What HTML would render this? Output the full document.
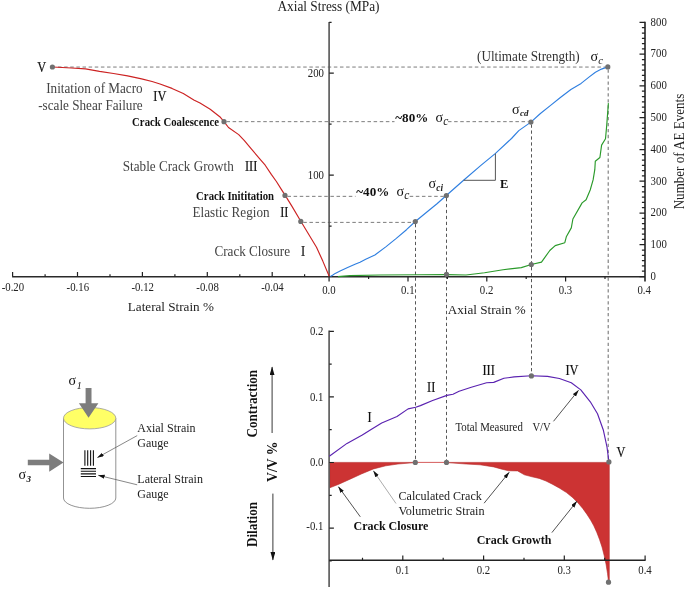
<!DOCTYPE html>
<html><head><meta charset="utf-8"><title>Stress-strain diagram</title>
<style>html,body{margin:0;padding:0;background:#fff}svg{display:block}text{font-family:"Liberation Serif","Times New Roman",serif;fill:#444}.b{font-weight:bold;fill:#111}.i{font-style:italic}.t{font-size:12.4px;fill:#222}.k{fill:#222}.m{font-size:15.6px}.r{fill:#222}.d{stroke:#6e6e6e;stroke-width:0.9;stroke-dasharray:3.5 2.63;fill:none}.dv{stroke:#444;stroke-width:0.9;stroke-dasharray:3.3 2.64;fill:none}.ax{stroke:#3a3a3a;stroke-width:1.2;fill:none}.tk{stroke:#222;stroke-width:1.2;fill:none}.ar{stroke:#333;stroke-width:0.85;fill:none}</style></head><body>
<svg width="685" height="589" viewBox="0 0 685 589">
<defs><marker id="ah" markerWidth="8" markerHeight="5" refX="6.3" refY="2" orient="auto" markerUnits="userSpaceOnUse"><path d="M0,0 L6.8,2 L0,4 Z" fill="#111"/></marker><marker id="ah2" markerWidth="9" markerHeight="6" refX="7.8" refY="2.4" orient="auto" markerUnits="userSpaceOnUse"><path d="M0,0 L8.3,2.4 L0,4.8 Z" fill="#111"/></marker></defs>
<rect width="685" height="589" fill="#fff"/>
<g class="d">
<path d="M58,67.05 H605.5"/>
<path d="M226.5,121.65 H394.5 M448,121.65 H528.5"/>
<path d="M287.5,196.35 H355.5 M409.7,196.35 H444"/>
<path d="M303.3,222.4 H413"/>
</g>
<g class="dv">
<path d="M415.5,224 V460"/>
<path d="M446.5,198 V460"/>
<path d="M531.5,124.5 V373.5"/>
</g>
<g class="dv" style="stroke:#777;stroke-width:1.1">
<path d="M608.2,69.5 V459.5"/>
</g>
<path d="M329.1,22 V281.5" stroke="#555" stroke-width="1.6" fill="none"/>
<path d="M12.1,276.75 H645" stroke="#2a2a2a" stroke-width="1.5" fill="none"/>
<path d="M645,21.7 V281.5" stroke="#222" stroke-width="1.6" fill="none"/>
<g class="tk">
<path d="M329.2,73.2 h4.6 M329.2,124.2 h2.4 M329.2,175.2 h4.6 M329.2,226.2 h2.4 M329.2,22.4 h2.4 M12.6,276.6 v-4.7 M45.1,276.6 v-2.3 M77.5,276.6 v-4.7 M110.0,276.6 v-2.3 M142.4,276.6 v-4.7 M174.9,276.6 v-2.3 M207.3,276.6 v-4.7 M239.8,276.6 v-2.3 M272.2,276.6 v-4.7 M304.6,276.6 v-2.3 M368.6,276.6 v2.4 M408.0,276.6 v4.9 M447.4,276.6 v2.4 M486.8,276.6 v4.9 M526.2,276.6 v2.4 M565.6,276.6 v4.9 M605.0,276.6 v2.4"/>
<path d="M645,276.5 h-5.5 M645,271.2 h-3.1 M645,265.9 h-3.1 M645,260.6 h-3.1 M645,255.3 h-3.1 M645,250.0 h-3.1 M645,244.7 h-5.5 M645,239.4 h-3.1 M645,234.2 h-3.1 M645,228.9 h-3.1 M645,223.6 h-3.1 M645,218.3 h-3.1 M645,213.0 h-5.5 M645,207.7 h-3.1 M645,202.4 h-3.1 M645,197.1 h-3.1 M645,191.8 h-3.1 M645,186.5 h-3.1 M645,181.2 h-5.5 M645,175.9 h-3.1 M645,170.6 h-3.1 M645,165.3 h-3.1 M645,160.0 h-3.1 M645,154.7 h-3.1 M645,149.5 h-5.5 M645,144.2 h-3.1 M645,138.9 h-3.1 M645,133.6 h-3.1 M645,128.3 h-3.1 M645,123.0 h-3.1 M645,117.7 h-5.5 M645,112.4 h-3.1 M645,107.1 h-3.1 M645,101.8 h-3.1 M645,96.5 h-3.1 M645,91.2 h-3.1 M645,85.9 h-5.5 M645,80.6 h-3.1 M645,75.3 h-3.1 M645,70.1 h-3.1 M645,64.8 h-3.1 M645,59.5 h-3.1 M645,54.2 h-5.5 M645,48.9 h-3.1 M645,43.6 h-3.1 M645,38.3 h-3.1 M645,33.0 h-3.1 M645,27.7 h-3.1 M645,22.4 h-5.5" style="stroke:#222;stroke-width:1.25"/>
</g>
<polyline points="338.0,276.6 350.0,275.6 380.0,275.0 420.0,274.8 446.5,274.6 466.0,275.0 484.5,272.8 503.0,269.7 521.3,267.6 531.3,264.5 541.5,262.1 549.8,250.5 555.2,245.6 564.8,242.7 566.3,236.8 571.3,227.9 572.9,219.0 582.1,202.9 586.1,199.7 590.2,190.0 593.1,179.9 594.8,169.7 595.3,161.2 599.9,157.5 601.6,145.1 605.5,138.8 606.7,125.6 608.4,103.1" fill="none" stroke="#2a9a2a" stroke-width="1.15" stroke-linejoin="round"/>
<polyline points="52.4,67.0 57.5,67.2 71.5,68.0 85.5,68.9 99.5,71.4 113.5,73.5 127.6,75.9 141.6,78.9 152.1,81.5 160.0,84.0 172.0,88.4 183.3,93.5 193.8,100.0 200.0,103.1 210.2,109.2 220.4,117.3 223.8,121.4 228.5,127.5 238.7,134.6 244.4,140.7 251.3,148.9 259.1,158.1 265.2,165.2 271.3,174.4 276.4,181.5 281.5,189.6 285.2,195.4 291.7,205.9 300.8,221.3 316.5,247.2 322.8,261.1 329.2,276.3" fill="none" stroke="#cc2222" stroke-width="1.15" stroke-linejoin="round"/>
<polyline points="330.4,276.5 332.9,275.0 335.2,273.4 340.6,270.8 348.2,267.3 355.6,264.0 360.0,262.2 365.7,259.3 374.9,255.0 386.1,246.6 396.3,238.4 406.5,229.7 415.3,221.5 426.9,212.0 437.0,203.8 446.3,195.5 463.6,180.3 480.9,165.4 495.2,153.6 511.5,138.5 518.8,130.6 530.9,122.1 540.4,113.5 550.6,105.4 560.7,97.2 570.9,89.5 581.1,83.4 589.3,76.9 595.4,72.2 601.5,69.1 607.8,66.9" fill="none" stroke="#2f7fe0" stroke-width="1.15" stroke-linejoin="round"/>
<path d="M463.6,180.3 H495.4 V153.6" fill="none" stroke="#555" stroke-width="1"/>
<polygon points="329.8,462.4 329.8,487.8 338.9,484.2 351.1,478.7 361.3,474.0 373.5,468.9 385.8,465.8 398.0,464.0 415.3,462.6 415.3,462.4" fill="#cc3333" stroke="#b52a2a" stroke-width="0.6"/>
<polygon points="446.5,462.4 446.5,462.6 466.1,464.0 480.0,464.8 493.7,466.9 502.0,469.2 508.5,470.8 517.6,470.9 524.4,474.8 532.0,476.8 539.2,478.4 546.0,481.0 552.8,484.4 559.6,488.2 566.5,492.6 572.5,497.4 577.9,502.8 582.7,508.4 587.0,514.4 590.6,520.0 593.8,525.8 596.8,532.4 599.5,539.4 602.0,547.0 604.1,555.2 606.0,564.0 607.5,573.4 608.5,582.0 609.3,582.0 609.3,462.4" fill="#cc3333" stroke="#b52a2a" stroke-width="0.6"/>
<path d="M415.3,462.4 H446.5" stroke="#cc3333" stroke-width="0.8"/>
<path d="M329.1,330.6 V587" stroke="#555" stroke-width="1.6" fill="none"/>
<path d="M329.3,560.2 H645.6" stroke="#222" stroke-width="1.4" fill="none"/>
<path class="tk" d="M329.3,331.3 h4.6 M329.3,364.1 h2.4 M329.3,396.9 h4.6 M329.3,429.7 h2.4 M329.3,462.5 h4.6 M329.3,495.3 h2.4 M329.3,528.1 h4.6 M329.3,560.9 h2.4 M362.5,560.2 v-2.4 M402.8,560.2 v-4.8 M443.2,560.2 v-2.4 M483.6,560.2 v-4.8 M524.0,560.2 v-2.4 M564.3,560.2 v-4.8 M604.7,560.2 v-2.4 M645.1,560.2 v-4.8"/>
<polyline points="329.3,456.3 347.0,443.4 362.3,435.0 371.5,429.2 381.7,423.0 397.0,416.5 408.1,408.9 415.7,407.2 420.4,405.6 432.6,400.5 446.9,395.4 453.0,394.2 459.1,391.3 471.3,387.3 486.6,382.8 493.7,382.4 503.9,378.3 514.1,376.9 531.4,375.8 547.5,376.4 559.4,378.5 571.3,382.8 580.8,389.9 590.3,401.8 597.5,413.7 603.4,430.3 607.0,447.0 608.9,461.7" fill="none" stroke="#5a22b0" stroke-width="1.15" stroke-linejoin="round"/>
<circle cx="52.4" cy="67" r="2.6" fill="#707070"/>
<circle cx="224" cy="121.7" r="2.6" fill="#707070"/>
<circle cx="285" cy="195.4" r="2.6" fill="#707070"/>
<circle cx="300.8" cy="221.4" r="2.6" fill="#707070"/>
<circle cx="415.3" cy="221.6" r="2.6" fill="#707070"/>
<circle cx="446.4" cy="195.6" r="2.6" fill="#707070"/>
<circle cx="530.9" cy="122.1" r="2.6" fill="#707070"/>
<circle cx="607.8" cy="66.9" r="2.6" fill="#707070"/>
<circle cx="446.5" cy="274.3" r="2.6" fill="#707070"/>
<circle cx="531.3" cy="264.5" r="2.6" fill="#707070"/>
<circle cx="415.3" cy="462.4" r="2.6" fill="#707070"/>
<circle cx="446.5" cy="462.4" r="2.6" fill="#707070"/>
<circle cx="531.4" cy="375.9" r="2.6" fill="#707070"/>
<circle cx="608.9" cy="461.9" r="2.6" fill="#707070"/>
<circle cx="608.5" cy="582.2" r="2.6" fill="#707070"/>
<path d="M63.5,418.2 V498 A26.15,10.3 0 0 0 115.8,498 V418.2" fill="#fff" stroke="#777" stroke-width="0.8"/>
<ellipse cx="89.65" cy="418.2" rx="26.15" ry="10.7" fill="#ffff66" stroke="#999" stroke-width="0.8"/>
<path d="M85.6,388 H91.5 V403.3 H98.4 L88.55,417.8 L78.9,403.3 H85.6 Z" fill="#7d7d7d"/>
<path d="M27.8,459.8 H49.2 V453.4 L63.5,462.5 L49.2,471.7 V465.3 H27.8 Z" fill="#7d7d7d"/>
<path d="M84.9,450.3 V465.8 M87.7,450.3 V465.8 M90.6,450.3 V465.8 M93.4,450.3 V465.8 M80.8,468.6 H96 M80.8,471.2 H96 M80.8,473.9 H96 M80.8,476.5 H96" stroke="#111" stroke-width="1.1" fill="none"/>
<line class="ar" x1="360.3" y1="516.8" x2="338.5" y2="486.8" marker-end="url(#ah)"/>
<line x1="396" y1="503.5" x2="373.5" y2="471" stroke="#888" stroke-width="0.7" marker-end="url(#ah)"/>
<line class="ar" x1="484.1" y1="503.2" x2="509.1" y2="472.4" marker-end="url(#ah)"/>
<line class="ar" x1="551.9" y1="532.6" x2="576.7" y2="501.5" marker-end="url(#ah)"/>
<line class="ar" x1="553.5" y1="421.3" x2="578.4" y2="390.4" marker-end="url(#ah)"/>
<line x1="137.2" y1="435.6" x2="97.5" y2="457.5" stroke="#555" stroke-width="0.7" marker-end="url(#ah)"/>
<line x1="137.2" y1="484.8" x2="98.4" y2="475.3" stroke="#555" stroke-width="0.7" marker-end="url(#ah)"/>
<line x1="272.1" y1="433" x2="272.1" y2="367.1" stroke="#222" stroke-width="0.9" marker-end="url(#ah2)"/>
<line x1="272.9" y1="493.6" x2="272.9" y2="559.9" stroke="#222" stroke-width="0.9" marker-end="url(#ah2)"/>
<text transform="translate(277.4,10.9) scale(0.953,1)" class="m" text-anchor="start" style="font-size:14.0px;fill:#222;">Axial Stress (MPa)</text>
<text transform="translate(37.2,71.5) scale(0.86,1)" class="m" text-anchor="start" style="font-size:14.4px;fill:#111;stroke:#111;stroke-width:0.2px;">V</text>
<text transform="translate(46.2,93.2) scale(0.9146,1)" class="m" text-anchor="start" style="font-size:14.4px;">Initation of Macro</text>
<text transform="translate(38.2,109.8) scale(0.9146,1)" class="m" text-anchor="start" style="font-size:14.4px;">-scale Shear Failure</text>
<text transform="translate(153.3,101) scale(0.86,1)" class="m" text-anchor="start" style="font-size:14.4px;fill:#111;stroke:#111;stroke-width:0.2px;">IV</text>
<text transform="translate(132.1,126) scale(0.935,1)" class="b" text-anchor="start" style="font-size:11.5px;">Crack Coalescence</text>
<text transform="translate(122.8,170.9) scale(0.9146,1)" class="m" text-anchor="start" style="font-size:14.4px;">Stable Crack Growth</text>
<text transform="translate(244.9,170.9) scale(0.86,1)" class="m" text-anchor="start" style="font-size:14.4px;fill:#111;stroke:#111;stroke-width:0.2px;">III</text>
<text transform="translate(196.1,199.8) scale(0.935,1)" class="b" text-anchor="start" style="font-size:11.5px;">Crack Inititation</text>
<text transform="translate(192.5,216.5) scale(0.9146,1)" class="m" text-anchor="start" style="font-size:14.4px;">Elastic Region</text>
<text transform="translate(280.2,216.5) scale(0.86,1)" class="m" text-anchor="start" style="font-size:14.4px;fill:#111;stroke:#111;stroke-width:0.2px;">II</text>
<text transform="translate(214.4,256) scale(0.9146,1)" class="m" text-anchor="start" style="font-size:14.4px;">Crack Closure</text>
<text transform="translate(301.1,256) scale(0.86,1)" class="m" text-anchor="start" style="font-size:14.4px;fill:#111;stroke:#111;stroke-width:0.2px;">I</text>
<text transform="translate(477,60.5) scale(0.9146,1)" class="m" text-anchor="start" style="font-size:14.4px;fill:#333;">(Ultimate Strength)</text>
<text x="590.4" y="60.6" style="font-size:14.2px;fill:#111">σ<tspan class="i " dy="3" dx="0.3" style="font-size:10.8px;fill:#222">c</tspan></text>
<text x="512" y="113.5" style="font-size:14.2px;fill:#111">σ<tspan class="i b" dy="2.4" dx="0.3" style="font-size:9px;fill:#222">cd</tspan></text>
<text x="428.4" y="187.9" style="font-size:14.2px;fill:#111">σ<tspan class="i b" dy="3.2" dx="0.3" style="font-size:9.3px;fill:#222">ci</tspan></text>
<text x="435.4" y="122" style="font-size:14.2px;fill:#111">σ<tspan class="i " dy="2.8" dx="0.3" style="font-size:11.5px;fill:#222">c</tspan></text>
<text x="396.4" y="196.1" style="font-size:14.2px;fill:#111">σ<tspan class="i " dy="3" dx="0.3" style="font-size:11.5px;fill:#222">c</tspan></text>
<text x="395.3" y="122" class="b" text-anchor="start" style="font-size:13.1px;">~80%</text>
<text x="356.3" y="196.2" class="b" text-anchor="start" style="font-size:13.1px;">~40%</text>
<text x="499.9" y="187.8" class="b" text-anchor="start" style="font-size:12.5px;">E</text>
<text transform="translate(12.9,290.6) scale(0.87,1)" class="t" text-anchor="middle">-0.20</text>
<text transform="translate(77.80000000000001,290.6) scale(0.87,1)" class="t" text-anchor="middle">-0.16</text>
<text transform="translate(142.70000000000002,290.6) scale(0.87,1)" class="t" text-anchor="middle">-0.12</text>
<text transform="translate(207.60000000000002,290.6) scale(0.87,1)" class="t" text-anchor="middle">-0.08</text>
<text transform="translate(272.5,290.6) scale(0.87,1)" class="t" text-anchor="middle">-0.04</text>
<text transform="translate(328.9,293.8) scale(0.87,1)" class="t" text-anchor="middle">0.0</text>
<text transform="translate(407.8,293.6) scale(0.87,1)" class="t" text-anchor="middle">0.1</text>
<text transform="translate(486.6,293.6) scale(0.87,1)" class="t" text-anchor="middle">0.2</text>
<text transform="translate(565.4,293.6) scale(0.87,1)" class="t" text-anchor="middle">0.3</text>
<text transform="translate(644.2,293.6) scale(0.87,1)" class="t" text-anchor="middle">0.4</text>
<text transform="translate(324,76.7) scale(0.87,1)" class="t" text-anchor="end">200</text>
<text transform="translate(324,178.89999999999998) scale(0.87,1)" class="t" text-anchor="end">100</text>
<text transform="translate(650.6,279.8) scale(0.87,1)" class="t" text-anchor="start">0</text>
<text transform="translate(650.6,248.04000000000002) scale(0.87,1)" class="t" text-anchor="start">100</text>
<text transform="translate(650.6,216.28) scale(0.87,1)" class="t" text-anchor="start">200</text>
<text transform="translate(650.6,184.52) scale(0.87,1)" class="t" text-anchor="start">300</text>
<text transform="translate(650.6,152.76) scale(0.87,1)" class="t" text-anchor="start">400</text>
<text transform="translate(650.6,120.99999999999999) scale(0.87,1)" class="t" text-anchor="start">500</text>
<text transform="translate(650.6,89.24) scale(0.87,1)" class="t" text-anchor="start">600</text>
<text transform="translate(650.6,57.479999999999976) scale(0.87,1)" class="t" text-anchor="start">700</text>
<text transform="translate(650.6,25.719999999999988) scale(0.87,1)" class="t" text-anchor="start">800</text>
<text x="127.8" y="310.9" class="m" text-anchor="start" style="font-size:13.15px;fill:#222;">Lateral Strain %</text>
<text x="447.7" y="314.3" class="m" text-anchor="start" style="font-size:13.15px;fill:#222;">Axial Strain %</text>
<text class="m" transform="translate(684.2,209.3) rotate(-90) scale(0.90,1)" style="font-size:14.5px;fill:#222">Number of AE Events</text>
<text transform="translate(323.4,334.8) scale(0.87,1)" class="t" text-anchor="end">0.2</text>
<text transform="translate(323.4,400.5) scale(0.87,1)" class="t" text-anchor="end">0.1</text>
<text transform="translate(323.4,465.5) scale(0.87,1)" class="t" text-anchor="end">0.0</text>
<text transform="translate(323.4,530.3) scale(0.87,1)" class="t" text-anchor="end">-0.1</text>
<text transform="translate(402.6,573.9) scale(0.87,1)" class="t" text-anchor="middle">0.1</text>
<text transform="translate(483.40000000000003,573.9) scale(0.87,1)" class="t" text-anchor="middle">0.2</text>
<text transform="translate(564.2,573.9) scale(0.87,1)" class="t" text-anchor="middle">0.3</text>
<text transform="translate(645.0,573.9) scale(0.87,1)" class="t" text-anchor="middle">0.4</text>
<text transform="translate(367.4,422) scale(0.86,1)" class="m" text-anchor="start" style="font-size:14.4px;fill:#111;stroke:#111;stroke-width:0.2px;">I</text>
<text transform="translate(427.1,392.4) scale(0.86,1)" class="m" text-anchor="start" style="font-size:14.4px;fill:#111;stroke:#111;stroke-width:0.2px;">II</text>
<text transform="translate(482.5,375) scale(0.86,1)" class="m" text-anchor="start" style="font-size:14.4px;fill:#111;stroke:#111;stroke-width:0.2px;">III</text>
<text transform="translate(565.4,374.5) scale(0.86,1)" class="m" text-anchor="start" style="font-size:14.4px;fill:#111;stroke:#111;stroke-width:0.2px;">IV</text>
<text transform="translate(616.5,457) scale(0.86,1)" class="m" text-anchor="start" style="font-size:14.4px;fill:#111;stroke:#111;stroke-width:0.2px;">V</text>
<text transform="translate(455.4,430.7) scale(0.888,1)" class="m" text-anchor="start" style="font-size:12.2px;fill:#222;">Total Measured</text>
<text transform="translate(532.4,430.7) scale(0.9,1)" class="m" text-anchor="start" style="font-size:11.8px;fill:#222;">V/V</text>
<text x="398.5" y="500" class="m" text-anchor="start" style="font-size:12.05px;fill:#222;">Calculated Crack</text>
<text x="398.5" y="514.9" class="m" text-anchor="start" style="font-size:12.2px;fill:#222;">Volumetric Strain</text>
<text x="353.6" y="530.3" class="b" text-anchor="start" style="font-size:12px;">Crack Closure</text>
<text x="476.7" y="543.6" class="b" text-anchor="start" style="font-size:12px;">Crack Growth</text>
<text x="137.3" y="432.3" class="m" text-anchor="start" style="font-size:12px;fill:#222;">Axial Strain</text>
<text x="137.3" y="447.1" class="m" text-anchor="start" style="font-size:12px;fill:#222;">Gauge</text>
<text x="137.3" y="482.6" class="m" text-anchor="start" style="font-size:12px;fill:#222;">Lateral Strain</text>
<text x="137.3" y="497.8" class="m" text-anchor="start" style="font-size:12px;fill:#222;">Gauge</text>
<text x="68.6" y="385" style="font-size:14.2px;fill:#111">σ<tspan class="i" dy="3.5" dx="0.4" style="font-size:10px;fill:#111">1</tspan></text>
<text x="18.6" y="478.9" style="font-size:14.2px;fill:#111">σ<tspan class="i b" dy="3" dx="0.3" style="font-size:9px;fill:#111">3</tspan></text>
<text class="b" transform="translate(256.6,437.4) rotate(-90) scale(0.955,1)" style="font-size:13.7px">Contraction</text>
<text class="b" transform="translate(276.6,481.9) rotate(-90)" style="font-size:13.7px">V/V %</text>
<text class="b" transform="translate(256.9,547) rotate(-90) scale(0.955,1)" style="font-size:13.7px">Dilation</text>
</svg></body></html>
